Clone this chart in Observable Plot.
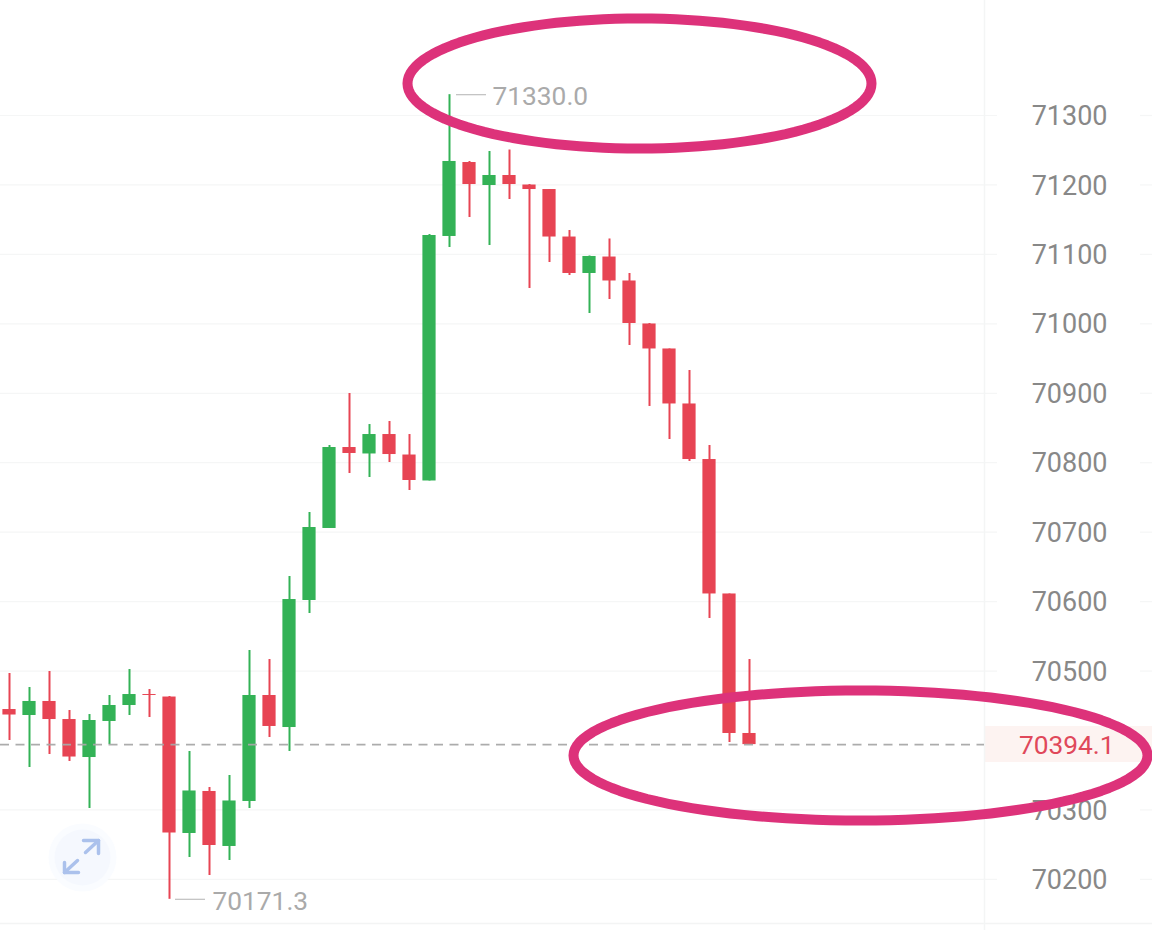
<!DOCTYPE html>
<html><head><meta charset="utf-8">
<script src="https://cdn.jsdelivr.net/npm/d3@7"></script>
<script src="https://cdn.jsdelivr.net/npm/@observablehq/plot@0.6"></script>
<style>html,body{margin:0;padding:0;background:#fff}svg{display:block}</style>
</head><body><div id="chart"></div>
<script>
const open  = [70444.6,70436,70456.2,70430.2,70375.5,70427.4,70450.4,70466.2,70462.6,70266.1,70326.6,70247.4,70312.2,70464.8,70418.7,70601.6,70705.3,70821.9,70812.6,70840.6,70811.1,70773.7,71125.8,71232.3,71199.2,71213.6,71199.9,71193.4,71125,71072.5,71096.2,71061.7,70999.8,70963.8,70884.6,70804.6,70611,70410.1];
const close = [70436.7,70456.2,70430.2,70376.2,70428.8,70450.4,70466.2,70464.8,70266.8,70327.3,70248.8,70312.9,70464.8,70420.2,70603,70706.7,70821.9,70813.3,70840.6,70811.8,70774.4,71127.2,71233.8,71200.6,71213.6,71200.6,71193.4,71125,71072.5,71097,71061.7,71000.5,70963.8,70884.6,70804.6,70611,70410.1,70394.1];
const high  = [70496.5,70476.3,70499.4,70443.2,70437.4,70464.8,70502.2,70473.4,70463.4,70384.2,70332.3,70349.6,70529.6,70516.6,70636.2,70728.3,70824.8,70899.7,70855,70859.4,70840.6,71128.6,71330,71233.8,71248.2,71250.3,71200.6,71193.4,71134.4,71097.7,71122.2,71072.5,71000.5,70963.8,70932.8,70824.8,70611,70516.6];
const low   = [70400,70361.1,70379.8,70369.8,70302.1,70394.2,70436,70433.1,70171.3,70231.5,70205.6,70227.2,70302.1,70404.3,70384.2,70582.9,70705.3,70784.5,70778.7,70800.3,70760,70773.7,71109.9,71153.1,71112.8,71179,71050.9,71088.3,71069.6,71014.9,71035,70968.8,70881,70833.4,70801.8,70575.7,70397.1,70394.1];
const tickValues = [71300,71200,71100,71000,70900,70800,70700,70600,70500,70300,70200];
const lastPrice = 70394.1, maxPrice = 71330.0, minPrice = 70171.3, maxIndex = 22, minIndex = 8;

const candles = open.map((o,i)=>({i,o,c:close[i],h:high[i],l:low[i]}));
const GREEN="#33b256", RED="#e74453";
const col = d => d.c >= d.o ? GREEN : RED;

// pixel <-> data helpers for the annotations only
const fx = p => (p-9)/20, fy = p => 71465.6-1.44*p;
const ellipse = (cx,cy,rx,ry) => d3.range(0,361,3).map(a=>({x:fx(cx+rx*Math.cos(a*Math.PI/180)),y:fy(cy+ry*Math.sin(a*Math.PI/180))}));
const pathOf = pts => pts.map(([x,y])=>({x:fx(x),y:fy(y)}));

const font = "Roboto, sans-serif";
const chart = Plot.plot({
  width:1152,height:930,margin:0,
  style:{fontFamily:font,background:"#fff"},
  x:{type:"linear",domain:[fx(0),fx(1152)],range:[0,1152],axis:null},
  y:{type:"linear",domain:[fy(0),fy(930)],range:[0,930],axis:null},
  marks:[
    Plot.rect([0],{x1:fx(984),x2:fx(1152),y1:fy(726),y2:fy(762),fill:"#fdf3f1"}),
    Plot.ruleY(tickValues,{x1:fx(0),x2:fx(997),stroke:"#f5f6f6",strokeWidth:1.2}),
    Plot.ruleY(tickValues,{x1:fx(1140),x2:fx(1152),stroke:"#f5f6f6",strokeWidth:1.2}),
    Plot.ruleY([fy(923)],{x1:fx(0),x2:fx(1152),stroke:"#f3f4f4",strokeWidth:1.5}),
    Plot.ruleX([fx(984)],{y1:fy(0),y2:fy(930),stroke:"#f4f5f5",strokeWidth:1.5}),
    Plot.ruleX(candles,{x:"i",y1:"l",y2:"h",stroke:col,strokeWidth:2}),
    Plot.rect(candles,{x1:d=>d.i-0.33,x2:d=>d.i+0.33,y1:d=>Math.max(d.o,d.c),y2:d=>Math.min(d.o,d.c),fill:col}),
    Plot.ruleY([lastPrice],{x1:fx(0),x2:fx(984),stroke:"#a8a8a8",strokeWidth:1.6,strokeDasharray:"9 6.5",strokeOpacity:.95}),
    Plot.ruleY([maxPrice],{x1:maxIndex+0.35,x2:maxIndex+1.85,stroke:"#c4c4c4",strokeWidth:1.3}),
    Plot.ruleY([minPrice],{x1:minIndex+0.3,x2:minIndex+1.8,stroke:"#c4c4c4",strokeWidth:1.3}),
    Plot.text([maxPrice],{x:maxIndex+2.15,y:d=>d,dy:2,text:d=>d.toFixed(1),textAnchor:"start",fontSize:26.3,fill:"#aaaaaa"}),
    Plot.text([minPrice],{x:minIndex+2.15,y:d=>d,dy:2,text:d=>d.toFixed(1),textAnchor:"start",fontSize:26.3,fill:"#aaaaaa"}),
    Plot.axisY({ticks:tickValues,x:fx(1107),anchor:"left",tickSize:0,tickPadding:0,label:null,tickFormat:d3.format("d"),fontSize:27,dy:1,fill:"#888888"}),
    Plot.text([lastPrice],{x:fx(1114),y:d=>d,dy:1,text:d=>d.toFixed(1),textAnchor:"end",fontSize:26.3,fill:"#e0485a"}),
    Plot.dot([0],{x:fx(82),y:fy(857),r:34,fill:"#fafcff"}),
    Plot.dot([0],{x:fx(82),y:fy(857),r:28,fill:"#f5f8fe"}),
    Plot.line(pathOf([[85,852],[98,840]]),{x:"x",y:"y",stroke:"#abc1ec",strokeWidth:3.5}),
    Plot.line(pathOf([[83,840],[98,840],[98,853]]),{x:"x",y:"y",stroke:"#abc1ec",strokeWidth:3.5}),
    Plot.line(pathOf([[77,860],[64,872]]),{x:"x",y:"y",stroke:"#abc1ec",strokeWidth:3.5}),
    Plot.line(pathOf([[64,862],[64,872],[78,872]]),{x:"x",y:"y",stroke:"#abc1ec",strokeWidth:3.5}),
    Plot.line(ellipse(639,83,232,65),{x:"x",y:"y",stroke:"#dd327a",strokeWidth:10}),
    Plot.line(ellipse(860,755,287,65),{x:"x",y:"y",stroke:"#dd327a",strokeWidth:10})
  ]
});
document.getElementById("chart").append(chart);
</script></body></html>
